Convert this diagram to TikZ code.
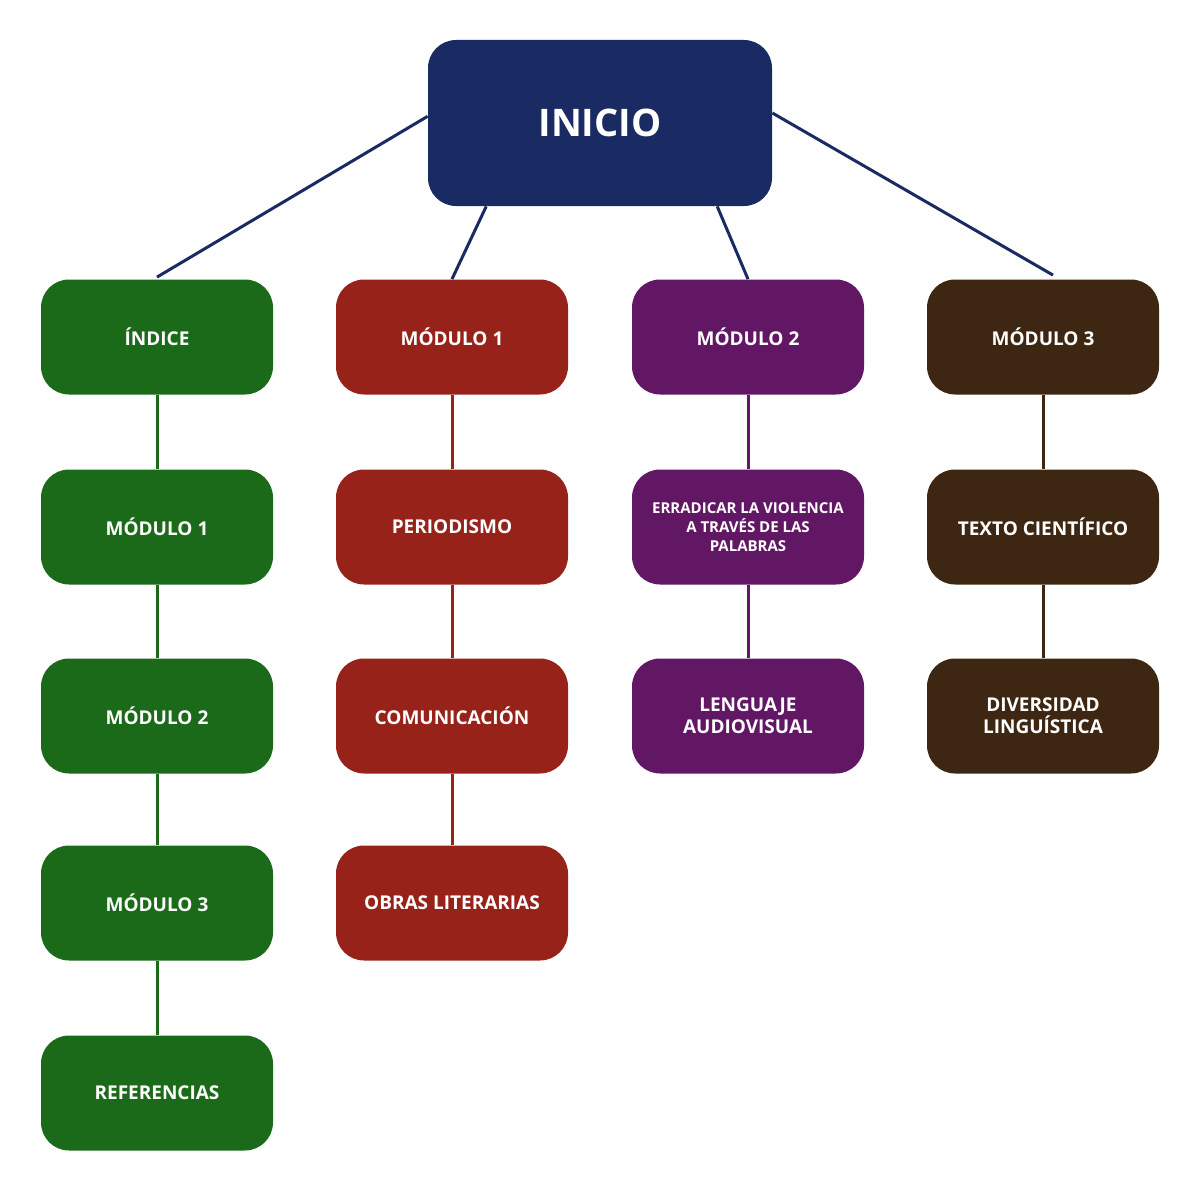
\documentclass[tikz,border=0pt]{standalone}
\usepackage{fontspec}
\setmainfont{Open Sans}
\usetikzlibrary{calc}
\definecolor{cblue}{HTML}{1A2A62}
\definecolor{cgreen}{HTML}{1B6A1A}
\definecolor{cred}{HTML}{962219}
\definecolor{cpurple}{HTML}{621764}
\definecolor{cbrown}{HTML}{3E2712}
\tikzset{
 box/.style={rounded corners=14pt, minimum width=116pt, minimum height=57.5pt, text=white, align=center, font=\fontsize{9.5}{11}\selectfont\bfseries, inner sep=2pt},
 lnk/.style={line width=1.5pt}
}
\begin{document}
\begin{tikzpicture}[x=0.5pt,y=-0.5pt]
\useasboundingbox (0,0) rectangle (1200,1193);
\node[box, fill=cblue, minimum width=172pt, minimum height=83pt, font=\fontsize{19}{22}\selectfont\bfseries] (inicio) at (600,123) {INICIO};
% column 1
\node[box, fill=cgreen] (g1) at (157,337) {ÍNDICE};
\node[box, fill=cgreen] (g2) at (157,527) {MÓDULO 1};
\node[box, fill=cgreen] (g3) at (157,716) {MÓDULO 2};
\node[box, fill=cgreen] (g4) at (157,903) {MÓDULO 3};
\node[box, fill=cgreen] (g5) at (157,1093) {REFERENCIAS};
% column 2
\node[box, fill=cred] (r1) at (452,337) {MÓDULO 1};
\node[box, fill=cred] (r2) at (452,527) {PERIODISMO};
\node[box, fill=cred] (r3) at (452,716) {COMUNICACIÓN};
\node[box, fill=cred] (r4) at (452,903) {OBRAS LITERARIAS};
% column 3
\node[box, fill=cpurple] (p1) at (748,337) {MÓDULO 2};
\node[box, fill=cpurple, font=\fontsize{7.5}{9.5}\selectfont\bfseries] (p2) at (748,527) {ERRADICAR LA VIOLENCIA\\A TRAVÉS DE LAS\\PALABRAS};
\node[box, fill=cpurple] (p3) at (748,716) {LENGUAJE\\AUDIOVISUAL};
% column 4
\node[box, fill=cbrown] (b1) at (1043,337) {MÓDULO 3};
\node[box, fill=cbrown] (b2) at (1043,527) {TEXTO CIENTÍFICO};
\node[box, fill=cbrown] (b3) at (1043,716) {DIVERSIDAD\\LINGUÍSTICA};
% links
\draw[lnk, cblue] ($(inicio.north west)!0.46!(inicio.south west)$) -- ($(g1.north)+(0,-2)$);
\draw[lnk, cblue] ($(inicio.south west)!0.17!(inicio.south east)$) -- (r1.north);
\draw[lnk, cblue] ($(inicio.south west)!0.84!(inicio.south east)$) -- (p1.north);
\draw[lnk, cblue] ($(inicio.north east)!0.44!(inicio.south east)$) -- ($(b1.north)+(10,-4)$);
\draw[lnk, cgreen] (g1) -- (g2) (g2) -- (g3) (g3) -- (g4) (g4) -- (g5);
\draw[lnk, cred] (r1) -- (r2) (r2) -- (r3) (r3) -- (r4);
\draw[lnk, cpurple] (p1) -- (p2) (p2) -- (p3);
\draw[lnk, cbrown] (b1) -- (b2) (b2) -- (b3);
\end{tikzpicture}
\end{document}
